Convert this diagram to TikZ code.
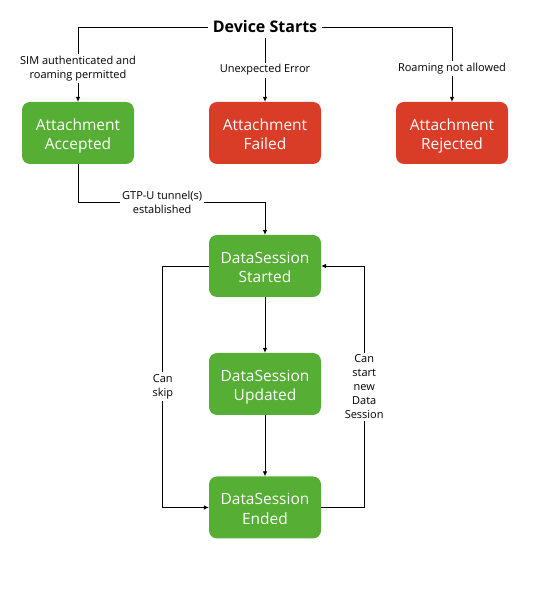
\documentclass[tikz,border=0pt]{standalone}
\usepackage{fontspec}
\setmainfont{Open Sans}
\usetikzlibrary{arrows.meta,positioning}
\definecolor{okgreen}{RGB}{86,174,52}
\definecolor{errred}{RGB}{217,60,39}
\newcommand{\tophold}{\rule{0pt}{19.6pt}}

\begin{document}
\begin{tikzpicture}[x=1pt,y=1pt,
  every node/.style={font=\fontsize{11}{14}\selectfont},
  state/.style={rounded corners=8pt,minimum width=112pt,minimum height=62pt,
    align=center,text=white,font=\fontsize{15.5}{19.5}\selectfont},
  okstate/.style={state,fill=okgreen},
  failstate/.style={state,fill=errred},
  lbl/.style={fill=white,align=center,inner sep=2pt},
  arr/.style={line width=.8pt,-{Latex[length=5pt,width=4.5pt]}}]
\useasboundingbox (0,0) rectangle (553,595);
\node[font=\fontsize{16}{19}\selectfont\bfseries,inner sep=5pt] (start) at (265,568) {Device Starts};
\node[okstate] (acc) at (78,462) {\tophold Attachment\\Accepted\strut};
\node[failstate] (fail) at (265,462) {\tophold Attachment\\Failed\strut};
\node[failstate] (rej) at (452,462) {\tophold Attachment\\Rejected\strut};
\node[okstate] (ds1) at (265,329) {\tophold DataSession\\Started\strut};
\node[okstate] (ds2) at (265,211) {\tophold DataSession\\Updated\strut};
\node[okstate] (ds3) at (265,87.5) {\tophold DataSession\\Ended\strut};
\draw[arr] (start.west) -| node[lbl,pos=.78] {SIM authenticated and\\roaming permitted} (acc.north);
\draw[arr] (start.south) -- node[lbl] {Unexpected Error} (fail.north);
\draw[arr] (start.east) -| node[lbl,pos=.78] {Roaming not allowed} (rej.north);
\draw[arr] (acc.south) -- ++(0,-38) -| node[lbl,pos=.225] {GTP-U tunnel(s)\\established} (ds1.north);
\draw[arr] (ds1) -- (ds2);
\draw[arr] (ds2) -- (ds3);
\draw[arr] (ds1.west) -- ++(-46,0) |- node[lbl,pos=.25] {Can\\skip} (ds3.west);
\draw[arr] (ds3.east) -- ++(43,0) |- node[lbl,pos=.25] {Can\\start\\new\\Data\\Session} (ds1.east);
\end{tikzpicture}
\end{document}
